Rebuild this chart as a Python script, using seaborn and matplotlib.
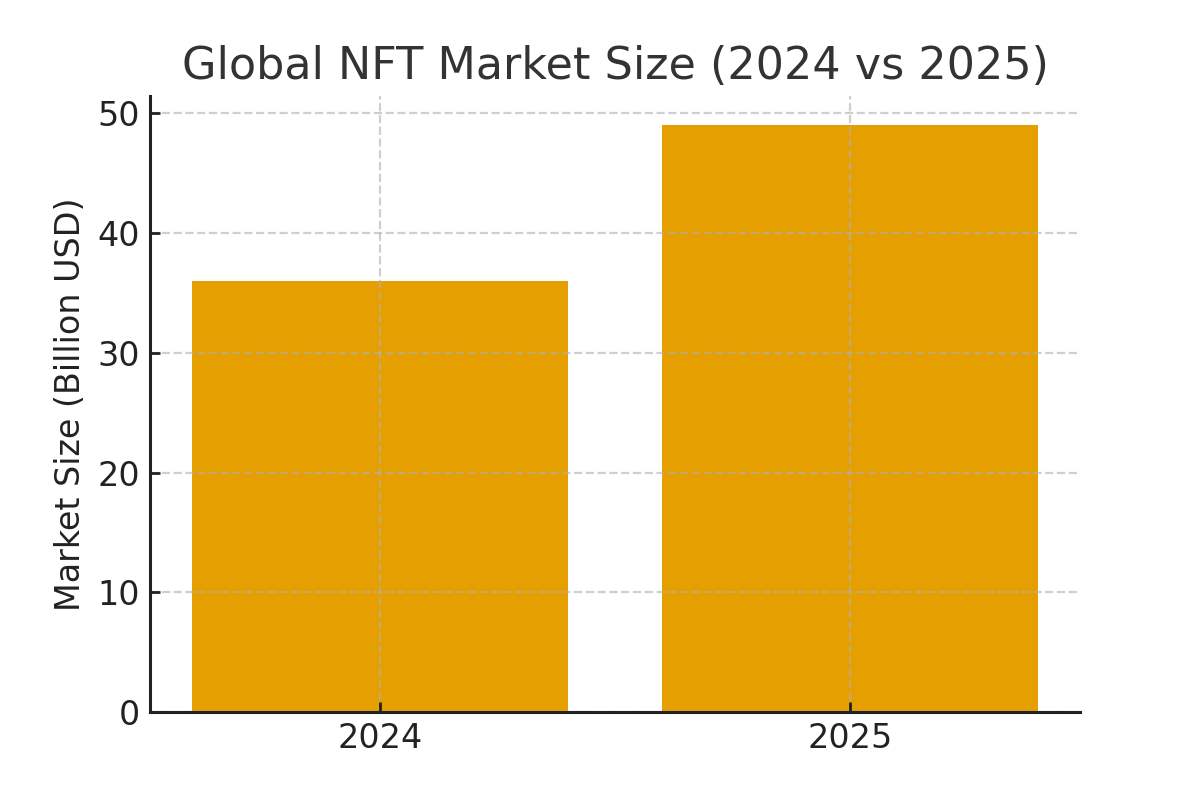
import matplotlib
matplotlib.use("Agg")
import matplotlib.pyplot as plt
import seaborn as sns
import pandas as pd

years = ["2024", "2025"]
market_size = [36, 49]

sns.set_theme(style="white")
plt.rcParams['font.family'] = ['DejaVu Sans']

df = pd.DataFrame({"Year": years, "Size": market_size})

fig, ax = plt.subplots(figsize=(6, 4), dpi=200)
sns.barplot(data=df, x="Year", y="Size", color="#E69F00", saturation=1, width=0.8,
            linewidth=0, ax=ax)
ax.set_xlim(-0.49, 1.49)
ax.set_ylim(0, 51.45)
ax.set_axisbelow(False)
ax.grid(True, linestyle="--", color="#b0b0b0", alpha=0.6, linewidth=0.8)
ax.set_title("Global NFT Market Size (2024 vs 2025)", fontsize=16, color="#333333")
ax.set_xlabel("")
ax.set_ylabel("Market Size (Billion USD)", fontsize=12, color="#222222")
ax.tick_params(axis="both", direction="in", length=3.5, width=1, labelsize=12, colors="#222222", bottom=True, left=True)
for s in ["top", "right"]:
    ax.spines[s].set_visible(False)
for s in ["left", "bottom"]:
    ax.spines[s].set_color("#222222")
    ax.spines[s].set_linewidth(1.1)
    ax.spines[s].set_zorder(3)
fig.subplots_adjust(left=0.125, right=0.9, bottom=0.11, top=0.88)
fig.savefig("out.png", dpi=200)
